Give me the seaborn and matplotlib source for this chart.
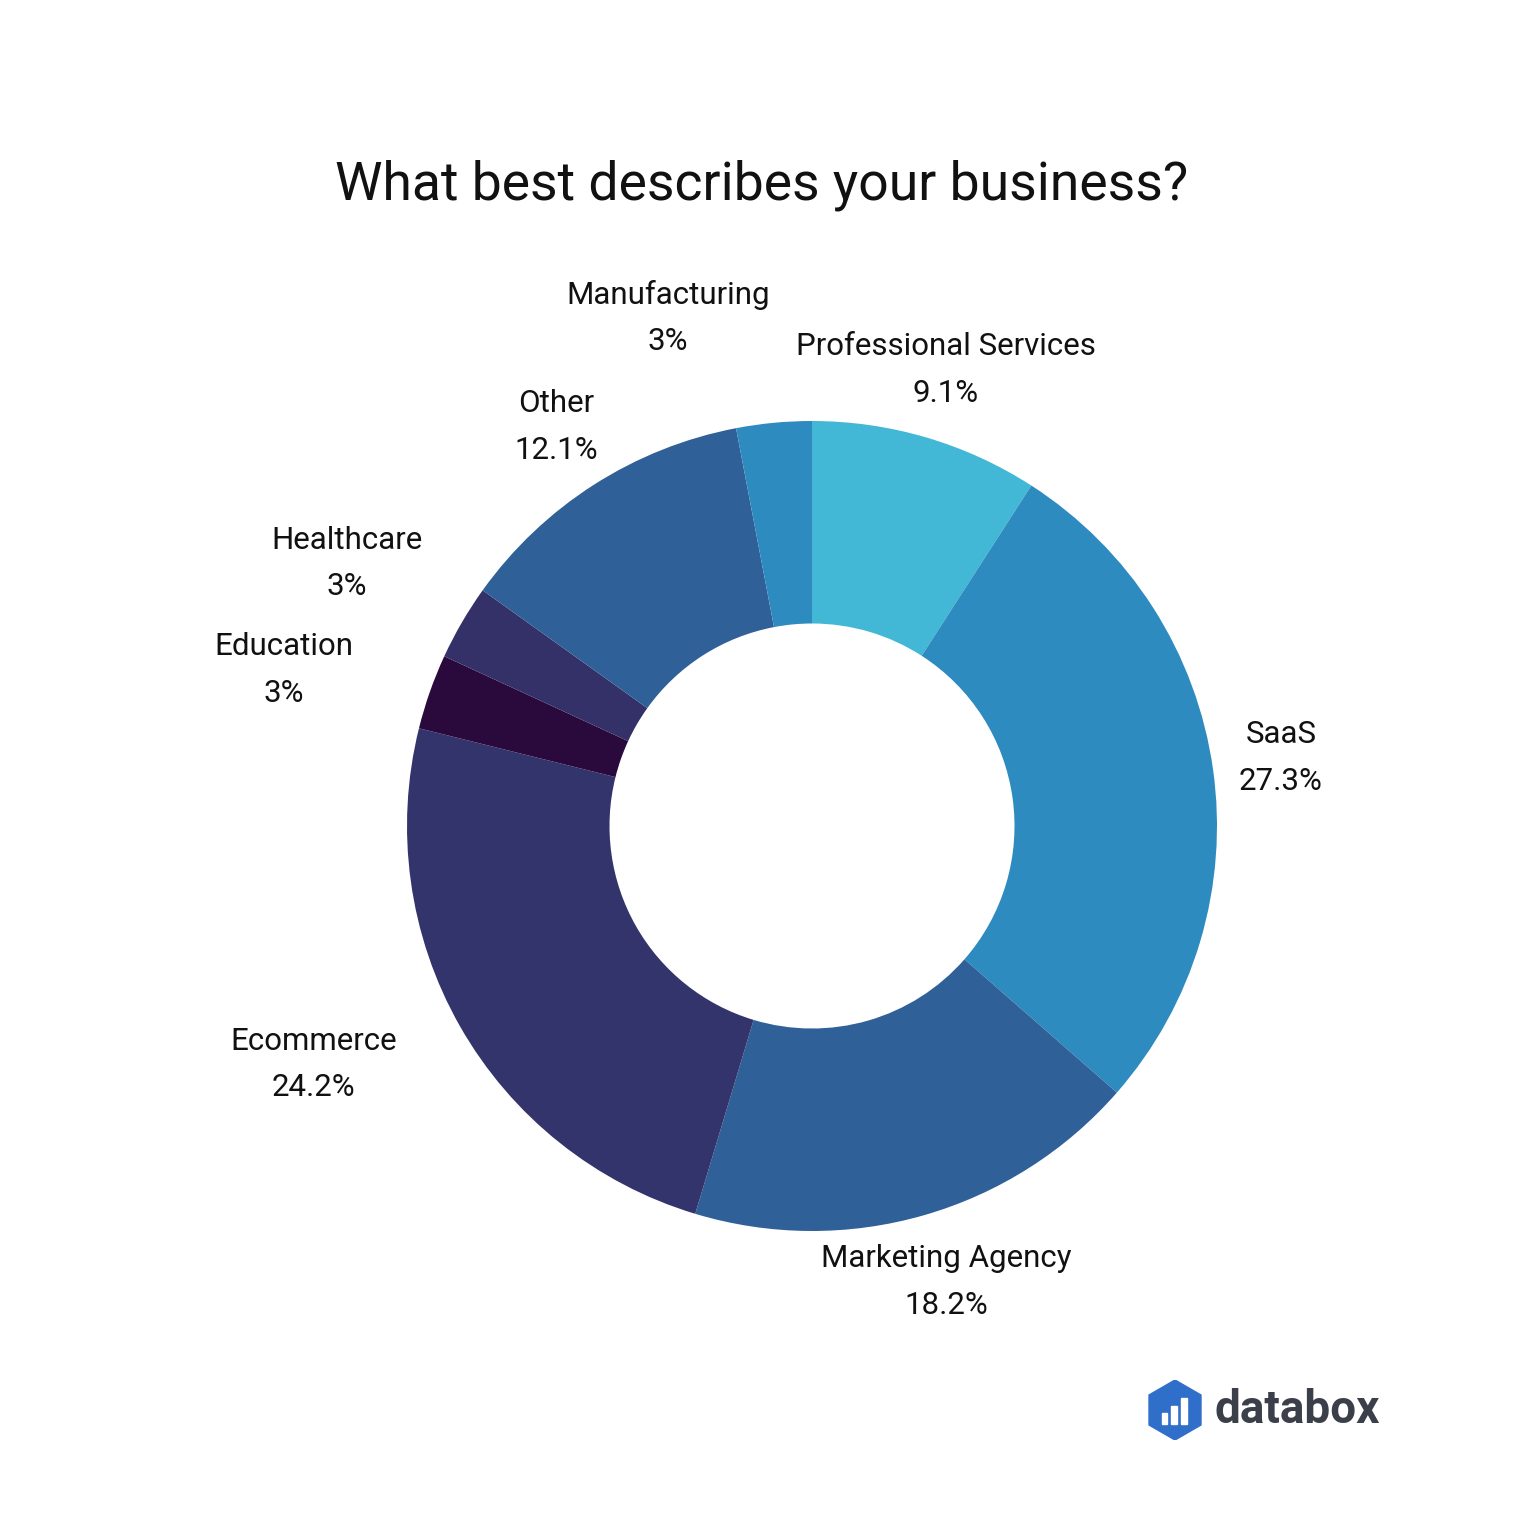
import matplotlib
matplotlib.use("Agg")
import matplotlib.pyplot as plt
import seaborn as sns
from matplotlib.patches import RegularPolygon, Rectangle

sns.set_theme(style="white")
plt.rcParams['font.family'] = ['Roboto', 'DejaVu Sans']

categories = ["Professional Services", "SaaS", "Marketing Agency", "Ecommerce",
              "Education", "Healthcare", "Other", "Manufacturing"]
values = [9.1, 27.3, 18.2, 24.2, 3, 3, 12.1, 3]
value_labels = ["9.1%", "27.3%", "18.2%", "24.2%", "3%", "3%", "12.1%", "3%"]
colors = ["#42b8d6", "#2e8bbf", "#2f6098", "#34346c", "#2a0a3c", "#343068", "#2f6098", "#2e8bbf"]
label_pos = [(0.331, 1.126), (1.158, 0.168), (0.331, -1.126), (-1.230, -0.588),
             (-1.304, 0.385), (-1.148, 0.649), (-0.632, 0.985), (-0.356, 1.254)]

fig = plt.figure(figsize=(15.36, 15.36), dpi=100)
fig.patch.set_facecolor("white")
ax = fig.add_axes([(812 - 405) / 1536, (710 - 405) / 1536, 810 / 1536, 810 / 1536])
ax.pie(values, colors=colors, startangle=90, counterclock=False,
       wedgeprops=dict(width=0.5, linewidth=0), radius=1)
ax.set_xlim(-1, 1); ax.set_ylim(-1, 1)
ax.set_aspect("equal")
for c, v, (x, y) in zip(categories, value_labels, label_pos):
    ax.text(x, y, f"{c}\n{v}", ha="center", va="center", fontsize=22.5,
            color="#111111", linespacing=1.75, clip_on=False)

fig.text(762 / 1536, 1 - 185 / 1536, "What best describes your business?",
         ha="center", va="center", fontsize=38.5, color="#111111")

# logo
lax = fig.add_axes([1145 / 1536, 1 - 1440 / 1536, 60 / 1536, 60 / 1536])
lax.set_xlim(-1, 1); lax.set_ylim(-1, 1); lax.axis("off")
lax.add_patch(RegularPolygon((0, 0), 6, radius=1, orientation=0, color="#2f6ec9"))
for i, h in enumerate([0.35, 0.6, 0.85]):
    lax.add_patch(Rectangle((-0.45 + i * 0.33, -0.45), 0.18, h, color="white"))
fig.text(1297 / 1536, 1 - 1410 / 1536, "databox", ha="center", va="center",
         fontsize=33, fontweight="bold", color="#3b3f4a")

fig.savefig("out.png", dpi=100, facecolor="white")
